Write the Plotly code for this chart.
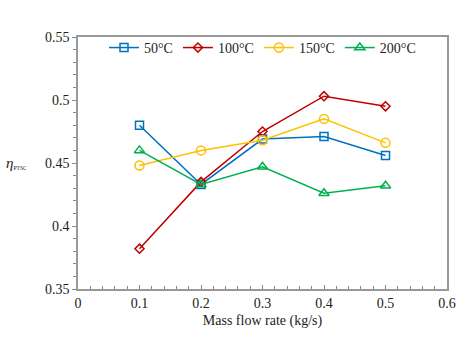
import plotly.graph_objects as go

# Mass flow rate (kg/s)
flow_rate = [0.1, 0.2, 0.3, 0.4, 0.5]

# PTSC efficiency at each inlet temperature
eff_50 = [0.480, 0.433, 0.469, 0.471, 0.456]
eff_100 = [0.382, 0.435, 0.475, 0.503, 0.495]
eff_150 = [0.448, 0.460, 0.468, 0.485, 0.466]
eff_200 = [0.460, 0.433, 0.447, 0.426, 0.432]

series = [
    ("50°C", eff_50, "#0070C0", "square-open", 8),
    ("100°C", eff_100, "#C00000", "diamond-open", 7),
    ("150°C", eff_150, "#FFC000", "circle-open", 9),
    ("200°C", eff_200, "#00B050", "triangle-up-open", 9),
]

FONT = "Liberation Serif, Times New Roman, serif"

fig = go.Figure()
for name, vals, color, sym, size in series:
    fig.add_trace(go.Scatter(
        x=flow_rate, y=vals, name=name, mode="lines+markers",
        line=dict(color=color, width=1.5),
        marker=dict(symbol=sym, size=size, color=color, line=dict(width=1.5, color=color)),
    ))

fig.update_layout(
    width=474, height=338,
    margin=dict(l=78, r=27, t=37, b=49),
    paper_bgcolor="white", plot_bgcolor="white",
    font=dict(family=FONT, size=14, color="#222"),
    showlegend=True,
    legend=dict(
        orientation="h", x=0.5, xanchor="center", y=1.02, yanchor="top",
        bgcolor="rgba(0,0,0,0)", font=dict(size=14, family=FONT),
        itemwidth=30, tracegroupgap=0,
    ),
    xaxis=dict(
        range=[0, 0.6], tickvals=[0, 0.1, 0.2, 0.3, 0.4, 0.5, 0.6],
        ticktext=["0", "0.1", "0.2", "0.3", "0.4", "0.5", "0.6"],
        showgrid=False, zeroline=False,
        showline=True, linecolor="#999", linewidth=1.5, mirror=True,
        ticks="inside", ticklen=4, tickcolor="#888",
        minor=dict(dtick=0.02, ticks="inside", ticklen=3, tickcolor="#888"),
        title=dict(text="Mass flow rate (kg/s)", font=dict(size=14, family=FONT), standoff=6),
    ),
    yaxis=dict(
        range=[0.35, 0.55], tickvals=[0.35, 0.4, 0.45, 0.5, 0.55],
        ticktext=["0.35", "0.4", "0.45", "0.5", "0.55"],
        showgrid=False, zeroline=False,
        showline=True, linecolor="#999", linewidth=1.5, mirror=True,
        ticks="outside", ticklen=4, tickcolor="#888",
        minor=dict(dtick=0.01, ticks="outside", ticklen=3, tickcolor="#888"),
    ),
)

# Efficiency label to the left of the y-axis
fig.add_annotation(
    text="<i>η</i><span style='font-size:8px'><sub>PTSC</sub></span>",
    xref="paper", yref="paper", x=-0.20, y=0.5,
    xanchor="left", yanchor="middle", showarrow=False,
    font=dict(size=15, family=FONT, color="#222"),
)

fig.write_html("out.html")
